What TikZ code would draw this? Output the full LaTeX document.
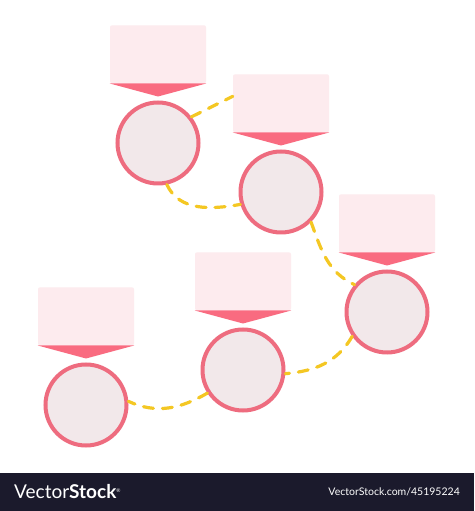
\documentclass[tikz,border=0pt]{standalone}
\usepackage{fontspec}
\setsansfont{Lato}
\usetikzlibrary{positioning}
\definecolor{boxpink}{HTML}{FDEBEE}
\definecolor{arrowpink}{HTML}{F96B80}
\definecolor{ringpink}{HTML}{EE6C7F}
\definecolor{discgrey}{HTML}{F2E8EA}
\definecolor{dashyellow}{HTML}{F4C723}
\definecolor{barnavy}{HTML}{1B1A2C}

\begin{document}
\begin{tikzpicture} [x = 1pt, y = 1pt,
        disc/.style = {circle, draw=ringpink, fill=discgrey, line width=4pt, minimum size=81pt, inner sep=0pt},
        labelbox/.style = {rectangle, rounded corners=2pt, fill=boxpink, minimum width=96pt, minimum height=58pt, inner sep=0pt},
        link/.style = {draw=dashyellow, line width=3.2pt, dash pattern=on 10pt off 9pt, line cap=round}]
        \useasboundingbox (0, 0) rectangle (474, 511);
        \fill[white] (0, 0) rectangle (474, 511);
        % steps: disc, box above it, pointer under the box
        \foreach \i/\x/\y in {1/158/368, 2/281/319, 3/387/199, 4/243/141, 5/86/106} {
            \node[disc] (c\i) at (\x, \y) {};
            \node[labelbox, above=17pt of c\i] (b\i) {};
            \fill[arrowpink] (b\i.south west) -- (b\i.south east) -- ([yshift=-13pt]b\i.south) -- cycle;
        }
        % dashed path
        \draw[link] (c1.38) -- ([yshift=7pt]b2.west);
        \draw[link] (c1.-78) to[out=-65, in=190] (c2.197);
        \draw[link] (c2.-45) to[out=-70, in=155] (c3.140);
        \draw[link] (c3.215) to[out=240, in=5] (c4.-5);
        \draw[link] (c4.213) to[out=210, in=-25] (c5.5);
        % bottom bar
        \fill[barnavy] (0, 0) rectangle (474, 38);
        \node[anchor=west, text=white, font=\sffamily\fontsize{19}{19}\selectfont, inner sep=0pt] (brand) at (14, 19) {Vector\textbf{Stock}\textsuperscript{\tiny ®}};
        \node[anchor=east, text=white, font=\sffamily\fontsize{10.5}{11}\selectfont, inner sep=0pt] (ref) at (460, 19) {VectorStock.com/45195224};
    \end{tikzpicture}
\end{document}
